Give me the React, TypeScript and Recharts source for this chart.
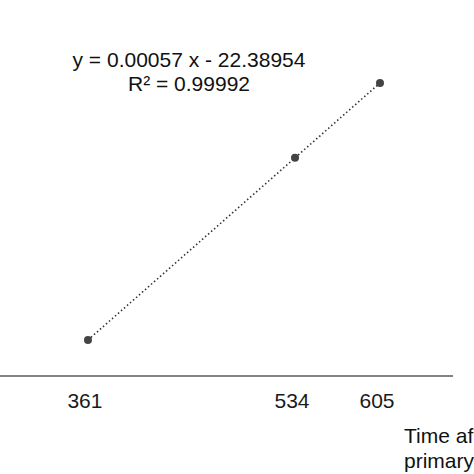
import React from 'react';
import { LineChart, Line, XAxis, YAxis } from 'recharts';

const times = [361, 534, 605];
const values = [10, 60.6, 81.4];
const tickLabels = [361, 534, 605];
const equation = 'y = 0.00057 x - 22.38954';
const rSquared = 'R² = 0.99992';
const axisTitle = ['Time af', 'primary'];

const data = times.map((t, i) => ({ t, v: values[i] }));

const font = '"Liberation Sans", Arial, sans-serif';

export default function App() {
  return (
    <div style={{ position: 'absolute', left: 0, top: 0, width: 474, height: 474, overflow: 'hidden', background: '#fff', fontFamily: font }}>
      <LineChart width={474} height={474} data={data} margin={{ top: 16, right: 21, left: 0, bottom: 38 }}>
        <XAxis
          dataKey="t"
          type="number"
          domain={[287.5, 666]}
          ticks={tickLabels}
          height={60}
          tickLine={false}
          axisLine={{ stroke: '#5a5a5a', strokeWidth: 1.5 }}
          tickMargin={11}
          tick={{ fill: '#1a1a1a', fontSize: 21, fontFamily: font, dx: -3 }}
        />
        <YAxis hide domain={[0, 100]} />
        <Line
          type="linear"
          dataKey="v"
          stroke="#333"
          strokeWidth={1.6}
          strokeDasharray="1.5 2.5"
          dot={{ r: 4, fill: '#444', stroke: 'none' }}
          isAnimationActive={false}
        />
      </LineChart>
      <div style={{ position: 'absolute', left: 189, top: 48, transform: 'translateX(-50%)', whiteSpace: 'nowrap', fontSize: 21, color: '#111', textAlign: 'center', lineHeight: '24px' }}>
        <div>{equation}</div>
        <div>{rSquared}</div>
      </div>
      <div style={{ position: 'absolute', left: 404, top: 423, whiteSpace: 'nowrap', fontSize: 21, color: '#111', lineHeight: '25px' }}>
        <div>{axisTitle[0]}</div>
        <div>{axisTitle[1]}</div>
      </div>
    </div>
  );
}
